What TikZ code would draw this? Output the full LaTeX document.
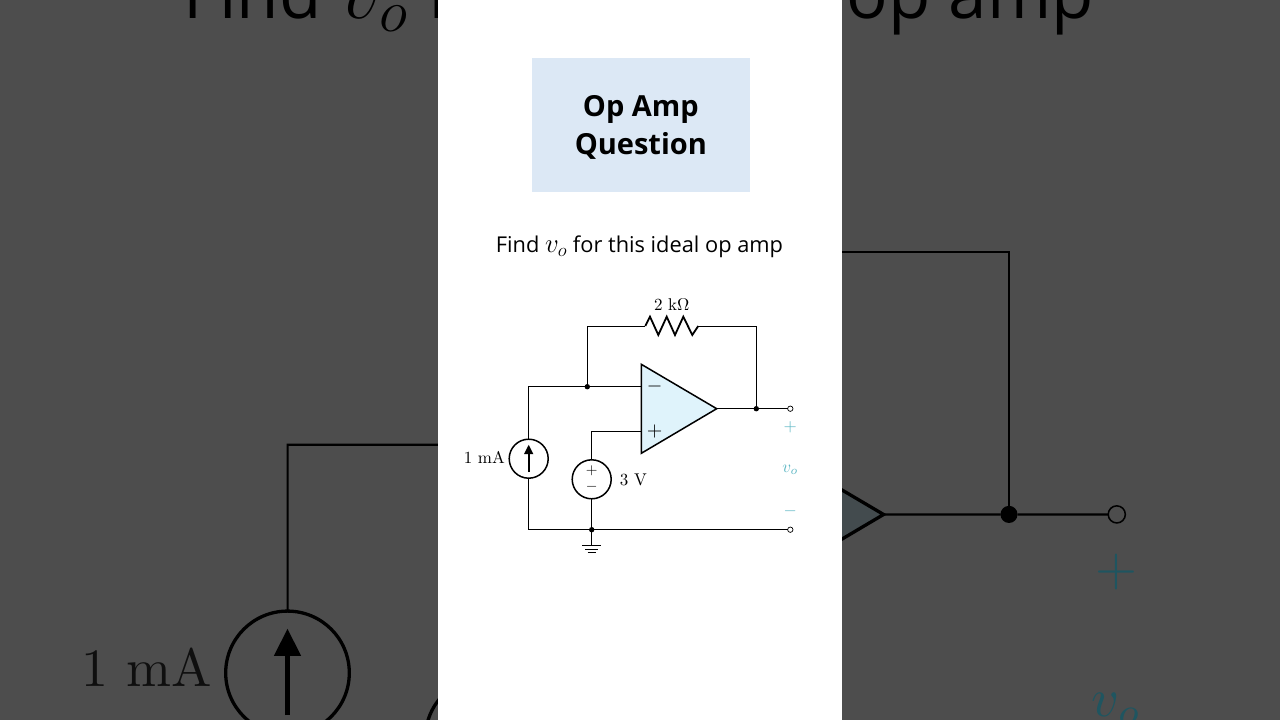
\documentclass[tikz,border=0pt]{standalone}
\usepackage{fontspec}
\usepackage{graphicx}
\newfontfamily\titlefont{Open Sans}
\usetikzlibrary{arrows.meta,calc}
\definecolor{panelgray}{HTML}{4D4D4D}
\definecolor{titleblue}{HTML}{DCE8F5}
\definecolor{ampcol}{HTML}{DFF3FB}
\definecolor{labelcol}{HTML}{5DB7C4}
\colorlet{opencol}{white}
\colorlet{textcol}{black}
\newcommand{\lwf}{1}
\newcommand{\lwa}{1}
\tikzset{
	wire/.style={black, line width=\lwf*0.95pt},
	body/.style={black, line width=\lwf*1.5pt},
	srcnode/.style={circle, draw=black, line width=\lwf*1.5pt, minimum size=39pt, inner sep=0pt, outer sep=0pt},
	dotnode/.style={circle, fill=black, minimum size=5.4pt, inner sep=0pt, outer sep=0pt},
	opennode/.style={circle, draw=black, fill=opencol, line width=\lwf*0.7pt, minimum size=5.4pt, inner sep=0pt, outer sep=0pt},
	textnode/.style={textcol, scale=1.7, inner sep=0pt},
	signnode/.style={textcol, inner sep=0pt},
	tealnode/.style={labelcol, scale=1.7, inner sep=0pt}
}
\newcommand{\opampcircuit}{
	\node[inner sep=0pt, font={\titlefont\fontsize{21.8}{26}\selectfont}] (findtext) at (639.5, 246.5) {Find \scalebox{1.3}{$v_o$} for this ideal op amp};
	\coordinate (ampTL) at (641.3, 364.3);
	\coordinate (ampBL) at (641.3, 453.3);
	\coordinate (ampTip) at (716.7, 408.7);
	\coordinate (ampMinus) at (641.3, 386.7);
	\coordinate (ampPlus) at (641.3, 431);
	\coordinate (resL) at (645.3, 326);
	\coordinate (resR) at (698.3, 326);
	\coordinate (gndtop) at (591.7, 545.7);
	\node[dotnode] (fbdot) at (587.3, 386.7) {};
	\node[dotnode] (outdot) at (756.3, 408.7) {};
	\node[dotnode] (gnddot) at (591.7, 529.7) {};
	\node[opennode] (termA) at (790.3, 408.7) {};
	\node[opennode] (termB) at (790.3, 529.7) {};
	\node[srcnode] (isrc) at (528.7, 458.7) {};
	\node[srcnode] (vsrc) at (591.7, 479.3) {};
	\draw[body, fill=ampcol, line join=miter] (ampTL) -- (ampTip) -- (ampBL) -- cycle;
	\draw[wire] (isrc.north) |- (fbdot) -- (ampMinus);
	\draw[wire] (isrc.south) |- (gnddot) -- (termB);
	\draw[wire] (fbdot) |- (resL);
	\draw[wire] (resR) -| (outdot);
	\draw[wire] (ampTip) -- (outdot) -- (termA);
	\draw[wire] (ampPlus) -| (vsrc.north);
	\draw[wire] (vsrc.south) -- (gnddot) -- (gndtop);
	\draw[body, line width=\lwf*1.8pt, line join=miter] (resL) -- ++(4.7,-9.3) -- ++(8.3,18.3) -- ++(8.4,-18.3) -- ++(8.3,18.3) -- ++(8.3,-18.3) -- ++(9,18.3) -- (resR);
	\foreach \gy/\gw in { 0/9.5, 3.6/6.5, 7/4 }
		\draw[wire] ($(gndtop)+(-\gw,\gy)$) -- ($(gndtop)+(\gw,\gy)$);
	\draw[black, line width=\lwa*2pt, -{Triangle[length=0pt 4.7, width=0pt 4.4]}] (528.7, 472) -- (528.7, 444.7);
	\node[textnode] (reslabel) at (671.7, 304.5) {2 k$\Omega$};
	\node[textnode] (ilabel) at (484.3, 457) {1 mA};
	\node[textnode] (vlabel) at (633.3, 480) {3 V};
	\node[signnode, scale=2] (ampminus) at (654.7, 386.7) {$-$};
	\node[signnode, scale=2] (ampplus) at (654.7, 431) {$+$};
	\node[signnode, scale=1.5] (vplus) at (591.7, 471) {$+$};
	\node[signnode, scale=1.5] (vminus) at (591.7, 486.7) {$-$};
	\node[tealnode] (outplus) at (790.3, 427) {$+$};
	\node[tealnode] (outvo) at (790.3, 470) {$v_o$};
	\node[tealnode] (outminus) at (790.3, 511) {$-$};
}
\begin{document}
\begin{tikzpicture}[x=1pt, y=-1pt]
	\useasboundingbox (0, 0) rectangle (1280, 720);
	\clip (0, 0) rectangle (1280, 720);
	\fill[panelgray] (0, 0) rectangle (1280, 720);
	\begin{scope}[shift={(287.5, 514.4)}, scale=3.17, shift={(-528.7, -408.7)}, transform shape]
		\renewcommand{\lwf}{2.2}
		\renewcommand{\lwa}{2.9}
		\definecolor{ampcol}{HTML}{434B4E}
		\definecolor{labelcol}{HTML}{1F5560}
		\colorlet{opencol}{panelgray}
		\colorlet{textcol}{black!80!panelgray}
		\opampcircuit
	\end{scope}
	\fill[white] (438, 0) rectangle (842, 720);
	\node[fill=titleblue, minimum width=218.3pt, minimum height=134.3pt, inner sep=0pt] (titlebox) at (640.85, 124.85) {};
	\node[inner sep=0pt, align=center, font={\titlefont\bfseries\fontsize{29}{38.5}\selectfont}] (titletext) at (640.85, 127.5) {Op Amp\\Question};
	\opampcircuit
\end{tikzpicture}
\end{document}
